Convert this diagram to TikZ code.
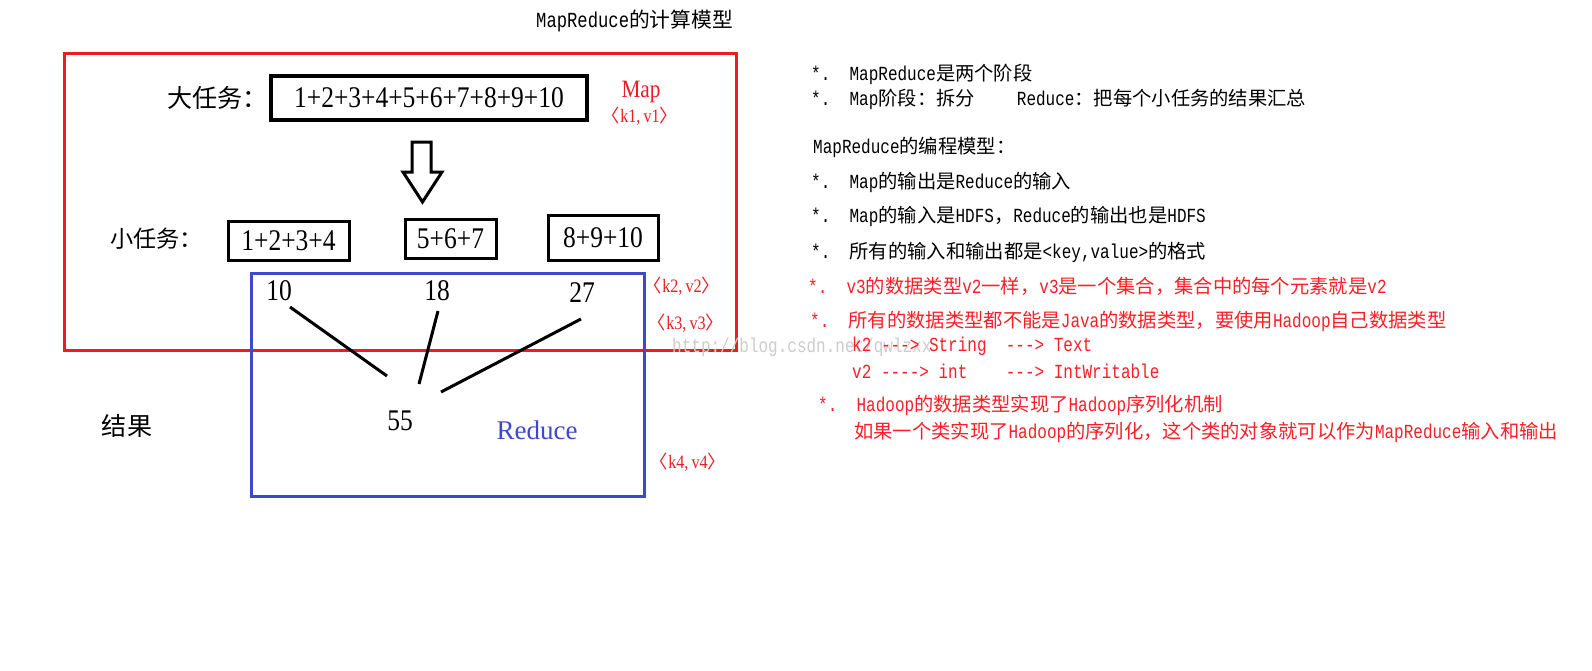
\documentclass[tikz,border=0pt]{standalone}
\usepackage{fontspec}
\setmainfont{Liberation Serif}
\setmonofont[FakeStretch=0.8]{Liberation Mono}
\newfontfamily\cjk[Scale=0.965]{Noto Sans CJK SC}
\newfontfamily\numfont[FakeStretch=0.85]{Liberation Serif}
\newcommand\zh[1]{{\cjk #1}}
\definecolor{mapred}{RGB}{237,28,36}
\definecolor{reduceblue}{RGB}{63,72,204}
\definecolor{notered}{RGB}{250,30,40}

\begin{document}
\begin{tikzpicture}[x=1pt,y=-1pt]
	\tikzset{taskbox/.style = {draw,line width=3pt,inner sep=0pt,font=\numfont\fontsize{30}{31}\selectfont}}
	\tikzset{kv/.style = {text=mapred,inner sep=0pt,font=\numfont\fontsize{19}{20}\selectfont}}
	\tikzset{number/.style = {inner sep=0pt,font=\numfont\fontsize{30}{31}\selectfont}}
	\tikzset{note/.style = {anchor=west,inner sep=0pt,font=\ttfamily\fontsize{20}{21}\selectfont}}
	\tikzset{sumline/.style = {line width=3pt}}
	\useasboundingbox (0,0) rectangle (1592,670);
	\fill[white] (0,0) rectangle (1592,670);
	% title
	\node[note,font=\ttfamily\fontsize{21.5}{23}\selectfont] (title) at (536,21) {MapReduce\zh{的计算模型}};
	% map part
	\node[draw=mapred,line width=3pt,anchor=north west,minimum width=672,minimum height=297] (mapbox) at (63,52) {};
	\node[anchor=east,inner sep=0pt,font=\cjk\fontsize{26}{28}\selectfont] (bigl) at (268,98) {大任务：};
	\node[taskbox,line width=4.5pt,minimum width=316,minimum height=44] (bigtask) at (429,98) {1+2+3+4+5+6+7+8+9+10};
	\node[inner sep=0pt,text=mapred,font=\numfont\fontsize{25}{26}\selectfont] (map) at (641,92) {Map};
	\node[kv] (kv1) at (640,116) {\zh{〈}k1,\,v1\zh{〉}};
	\draw[line width=3pt,line join=miter] (412,142) -- (431,142) -- (431,172) -- (442,172) -- (422.5,202) -- (403,172) -- (412,172) -- cycle;
	\node[anchor=east,inner sep=0pt,font=\cjk\fontsize{24}{26}\selectfont] (smalll) at (203,239) {小任务：};
	\node[taskbox,minimum width=121,minimum height=39] (task1) at (288.5,240.5) {1+2+3+4};
	\node[taskbox,minimum width=91,minimum height=39] (task2) at (450.5,238.5) {5+6+7};
	\node[taskbox,minimum width=110,minimum height=45] (task3) at (603,237.5) {8+9+10};
	% reduce part
	\node[draw=reduceblue,line width=3pt,anchor=north west,minimum width=393,minimum height=223] (reducebox) at (250,272) {};
	\node[number] (n10) at (279,291) {10};
	\node[number] (n18) at (437,291) {18};
	\node[number] (n27) at (582,293) {27};
	\node[number] (n55) at (400,421) {55};
	\coordinate (s10) at (290,307);
	\coordinate (e10) at (387,376);
	\coordinate (s18) at (438,311);
	\coordinate (e18) at (419,384);
	\coordinate (s27) at (581,319);
	\coordinate (e27) at (441,392);
	\draw[sumline] (s10) -- (e10);
	\draw[sumline] (s18) -- (e18);
	\draw[sumline] (s27) -- (e27);
	\node[inner sep=0pt,font=\cjk\fontsize{26}{27}\selectfont] (result) at (127,426) {结果};
	\node[inner sep=0pt,text=reduceblue,font=\fontsize{27}{28}\selectfont] (reduce) at (537,430) {Reduce};
	\node[kv] (kv2) at (682,286) {\zh{〈}k2,\,v2\zh{〉}};
	\node[kv] (kv3) at (686,323) {\zh{〈}k3,\,v3\zh{〉}};
	\node[kv] (kv4) at (688,462) {\zh{〈}k4,\,v4\zh{〉}};
	\node[note,text=black!20] (mark) at (672,347) {http://blog.csdn.net/qwlzxx};
	% notes
	\node[note] (l1) at (811,74) {*.\ \ MapReduce\zh{是两个阶段}};
	\node[note] (l2) at (811,99) {*.\ \ Map\zh{阶段：拆分}\hspace*{42pt}Reduce\zh{：把每个小任务的结果汇总}};
	\node[note] (l3) at (813,147) {MapReduce\zh{的编程模型：}};
	\node[note] (l4) at (811,182) {*.\ \ Map\zh{的输出是}Reduce\zh{的输入}};
	\node[note] (l5) at (811,216) {*.\ \ Map\zh{的输入是}HDFS\zh{，}Reduce\zh{的输出也是}HDFS};
	\node[note] (l6) at (811,252) {*.\ \ \zh{所有的输入和输出都是}<key,value>\zh{的格式}};
	\node[note,text=notered] (r1) at (808,286) {*.\ \ v3\zh{的数据类型}v2\zh{一样，}v3\zh{是一个集合，集合中的每个元素就是}v2};
	\node[note,text=notered] (r2) at (810,321) {*.\ \ \zh{所有的数据类型都不能是}Java\zh{的数据类型，要使用}Hadoop\zh{自己数据类型}};
	\node[note,text=notered] (r3) at (852,346) {k2\ -{}-{}->\ String\ \ -{}-{}->\ Text};
	\node[note,text=notered] (r4) at (852,371) {v2\ -{}-{}-{}->\ int\ \ \ \ -{}-{}->\ IntWritable};
	\node[note,text=notered] (r5) at (818,405) {*.\ \ Hadoop\zh{的数据类型实现了}Hadoop\zh{序列化机制}};
	\node[note,text=notered] (r6) at (854,432) {\zh{如果一个类实现了}Hadoop\zh{的序列化，这个类的对象就可以作为}MapReduce\zh{输入和输出}};
\end{tikzpicture}
\end{document}
